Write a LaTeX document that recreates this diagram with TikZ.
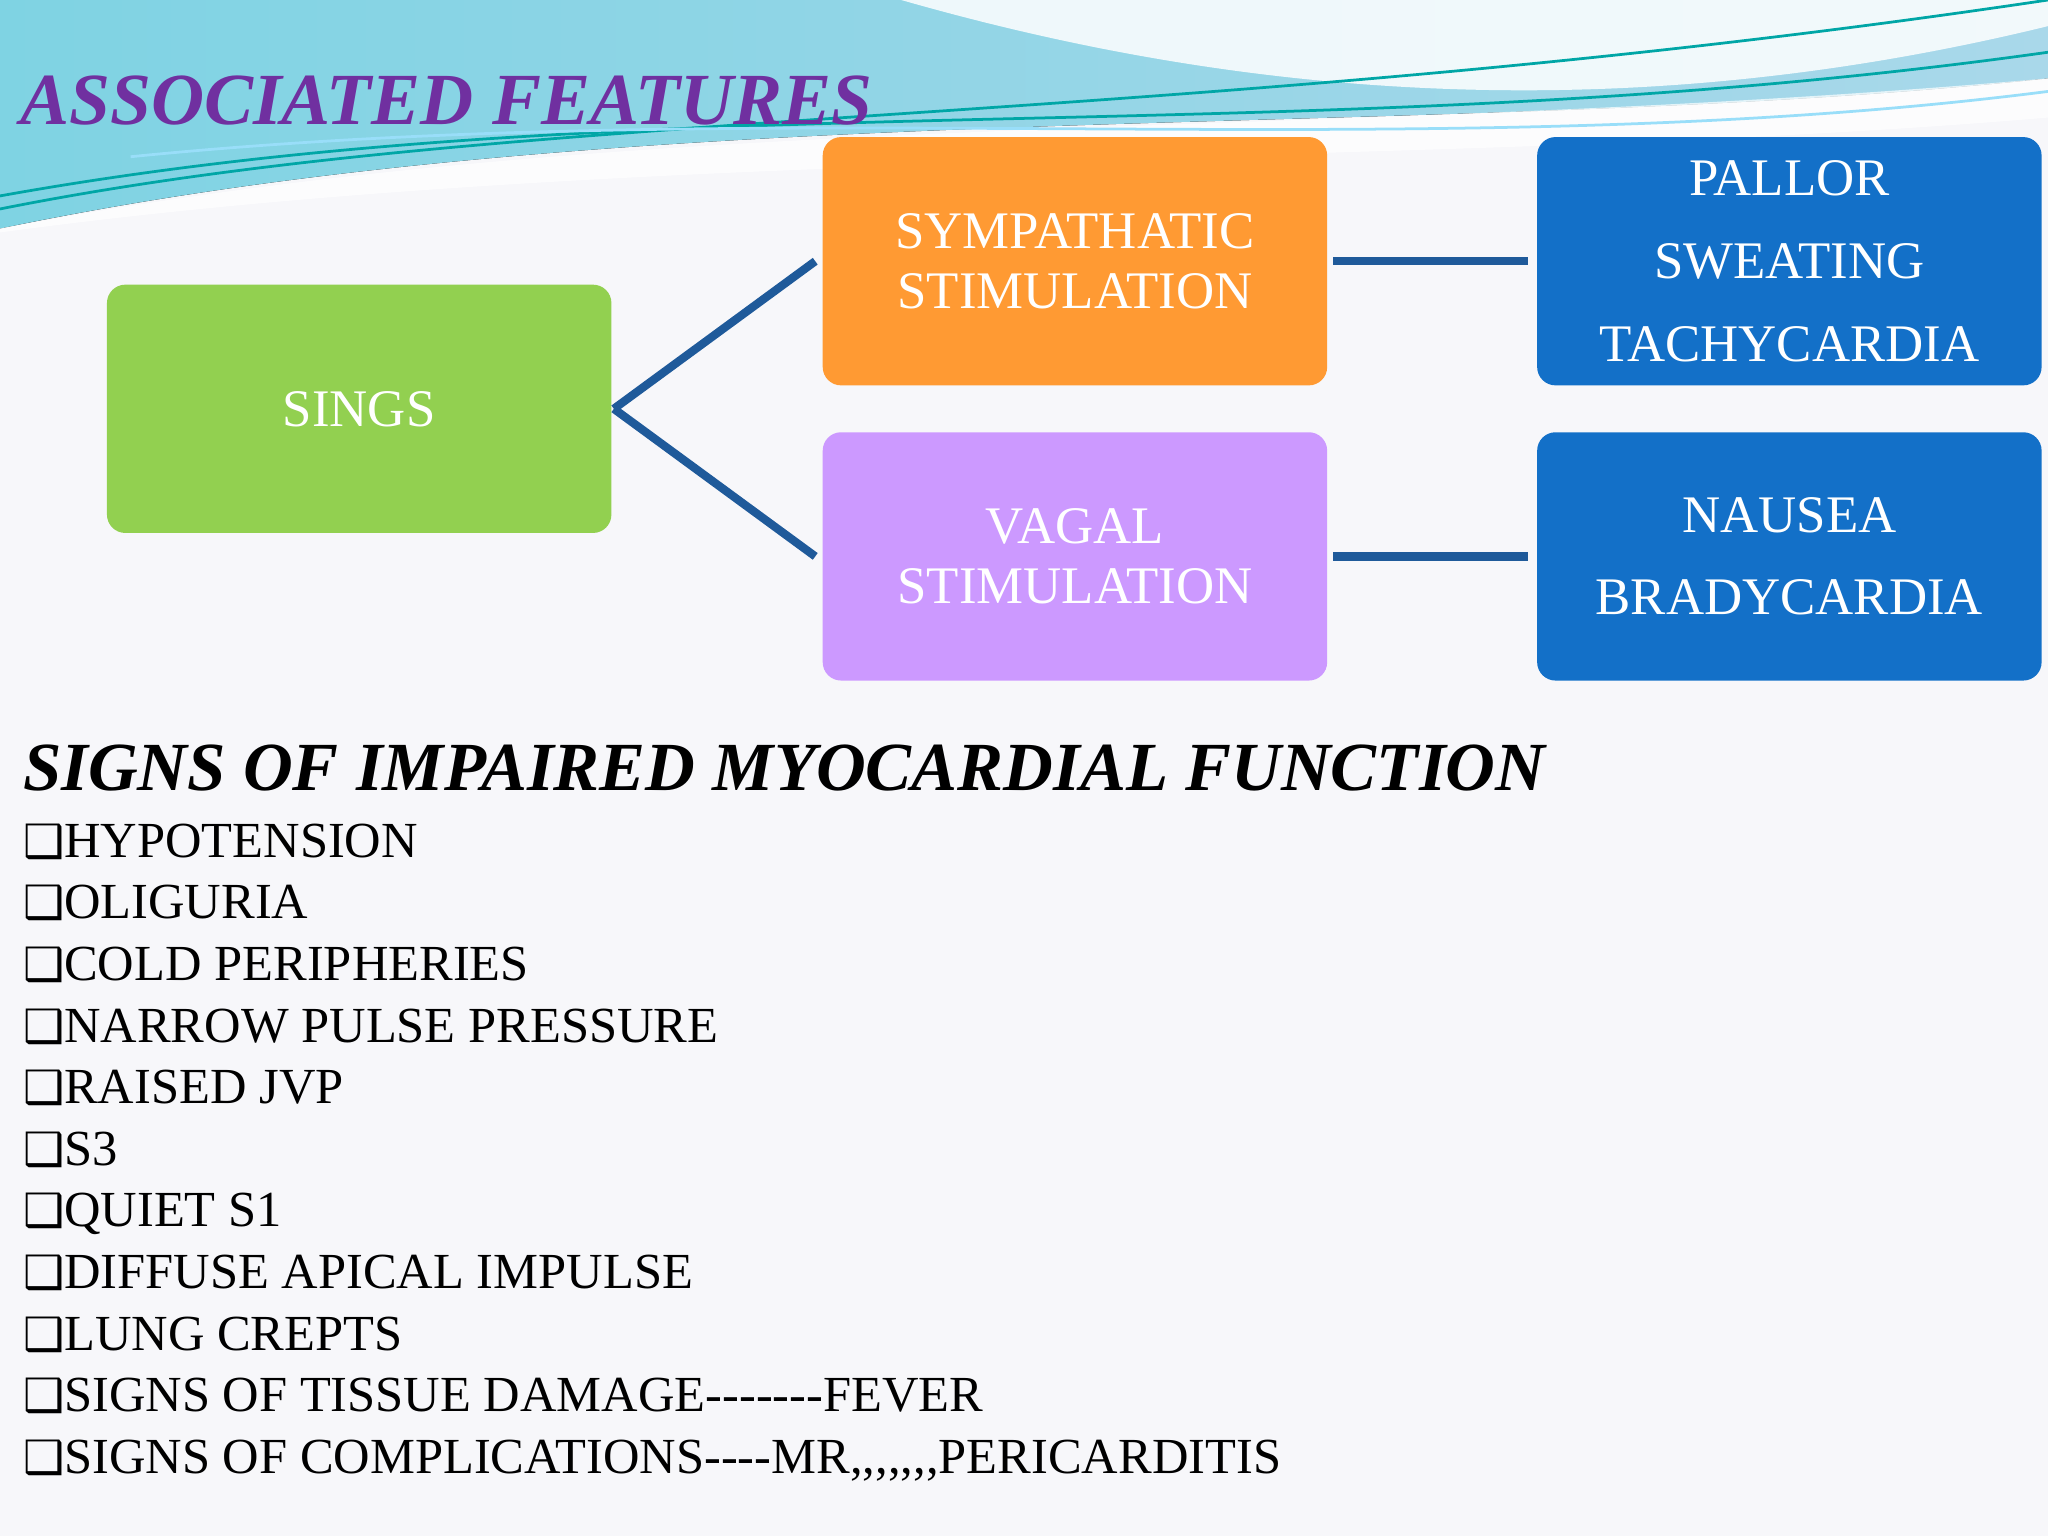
\documentclass[tikz,border=0pt]{standalone}
\usepackage{fontspec}
\setmainfont{Liberation Serif}[Ligatures=TeXOff]
\newfontfamily\dv{DejaVu Sans}
\begin{document}
\begin{tikzpicture}[x=0.01cm,y=-0.01cm,
 box/.style={rounded corners=4pt,minimum width=3.86cm,minimum height=1.9cm,text=white,align=center,font=\fontsize{11.5}{13}\selectfont},
 conn/.style={draw=linec,line width=1.8pt},
 item/.style={anchor=base west,font=\fontsize{11}{13}\selectfont,inner sep=0}]
\definecolor{bg}{HTML}{F7F7FA}
\definecolor{linec}{HTML}{1F5A9A}
\definecolor{gr}{HTML}{92D050}
\definecolor{orng}{HTML}{FF9A33}
\definecolor{purp}{HTML}{CC99FF}
\definecolor{blu}{HTML}{1370C8}
\definecolor{ttl}{HTML}{7030A0}
\definecolor{wa}{HTML}{7FD3E3}
\definecolor{wb}{HTML}{A9D8EA}
\useasboundingbox (0,0) rectangle (1568,1176);
\fill[bg] (0,0) rectangle (1568,1176);
% top wave
\fill[left color=wa,right color=wb] (0,0) -- (1568,0) -- (1568,60) .. controls (1100,110) and (500,70) .. (0,175) -- cycle;
\fill[white,opacity=0.85] (690,0) .. controls (900,60) and (1200,110) .. (1568,20) -- (1568,0) -- cycle;
\fill[white,opacity=0.7] (0,175) .. controls (500,80) and (1000,110) .. (1568,60) -- (1568,90) .. controls (1100,130) and (500,110) .. (0,178) -- cycle;
\draw[teal!70!cyan,line width=0.6pt] (0,160) .. controls (400,80) and (900,100) .. (1568,0);
\draw[teal!70!cyan,line width=0.6pt] (0,150) .. controls (500,60) and (1000,120) .. (1568,40);
\draw[cyan!40,line width=0.6pt] (100,120) .. controls (600,70) and (1100,130) .. (1568,70);
\node[anchor=base west,inner sep=0,text=ttl,font=\fontsize{16}{19}\selectfont\bfseries\itshape] (title) at (15,95) {ASSOCIATED FEATURES};
% boxes
\node[box,fill=gr] (s) at (275,313) {SINGS};
\node[box,fill=orng] (sy) at (823,200) {SYMPATHATIC\\STIMULATION};
\node[box,fill=purp] (va) at (823,426) {VAGAL\\STIMULATION};
\node[box,fill=blu,font=\fontsize{11.5}{18}\selectfont] (p) at (1370,200) {PALLOR\\SWEATING\\TACHYCARDIA};
\node[box,fill=blu,font=\fontsize{11.5}{18}\selectfont] (n) at (1370,426) {NAUSEA\\BRADYCARDIA};
\coordinate (j) at (470,313);
\draw[conn] (j) -- ([xshift=-0.5mm]sy.west);
\draw[conn] (j) -- ([xshift=-0.5mm]va.west);
\draw[conn] ([xshift=0.4mm]sy.east) -- ([xshift=-0.6mm]p.west);
\draw[conn] ([xshift=0.4mm]va.east) -- ([xshift=-0.6mm]n.west);
% list
\node[anchor=base west,inner sep=0,font=\fontsize{15}{18}\selectfont\bfseries\itshape] (h) at (17,605) {SIGNS OF IMPAIRED MYOCARDIAL FUNCTION};
\foreach \t [count=\i] in {HYPOTENSION,OLIGURIA,COLD PERIPHERIES,NARROW PULSE PRESSURE,RAISED JVP,S3,QUIET S1,DIFFUSE APICAL IMPULSE,LUNG CREPTS,SIGNS OF TISSUE DAMAGE-------FEVER,{SIGNS OF COMPLICATIONS----MR,,,,,,,PERICARDITIS}}
 \node[item] (l\i) at (17,{609+47.2*\i}) {{\dv\fontsize{10}{12}\selectfont ❑}\t};
\end{tikzpicture}
\end{document}
